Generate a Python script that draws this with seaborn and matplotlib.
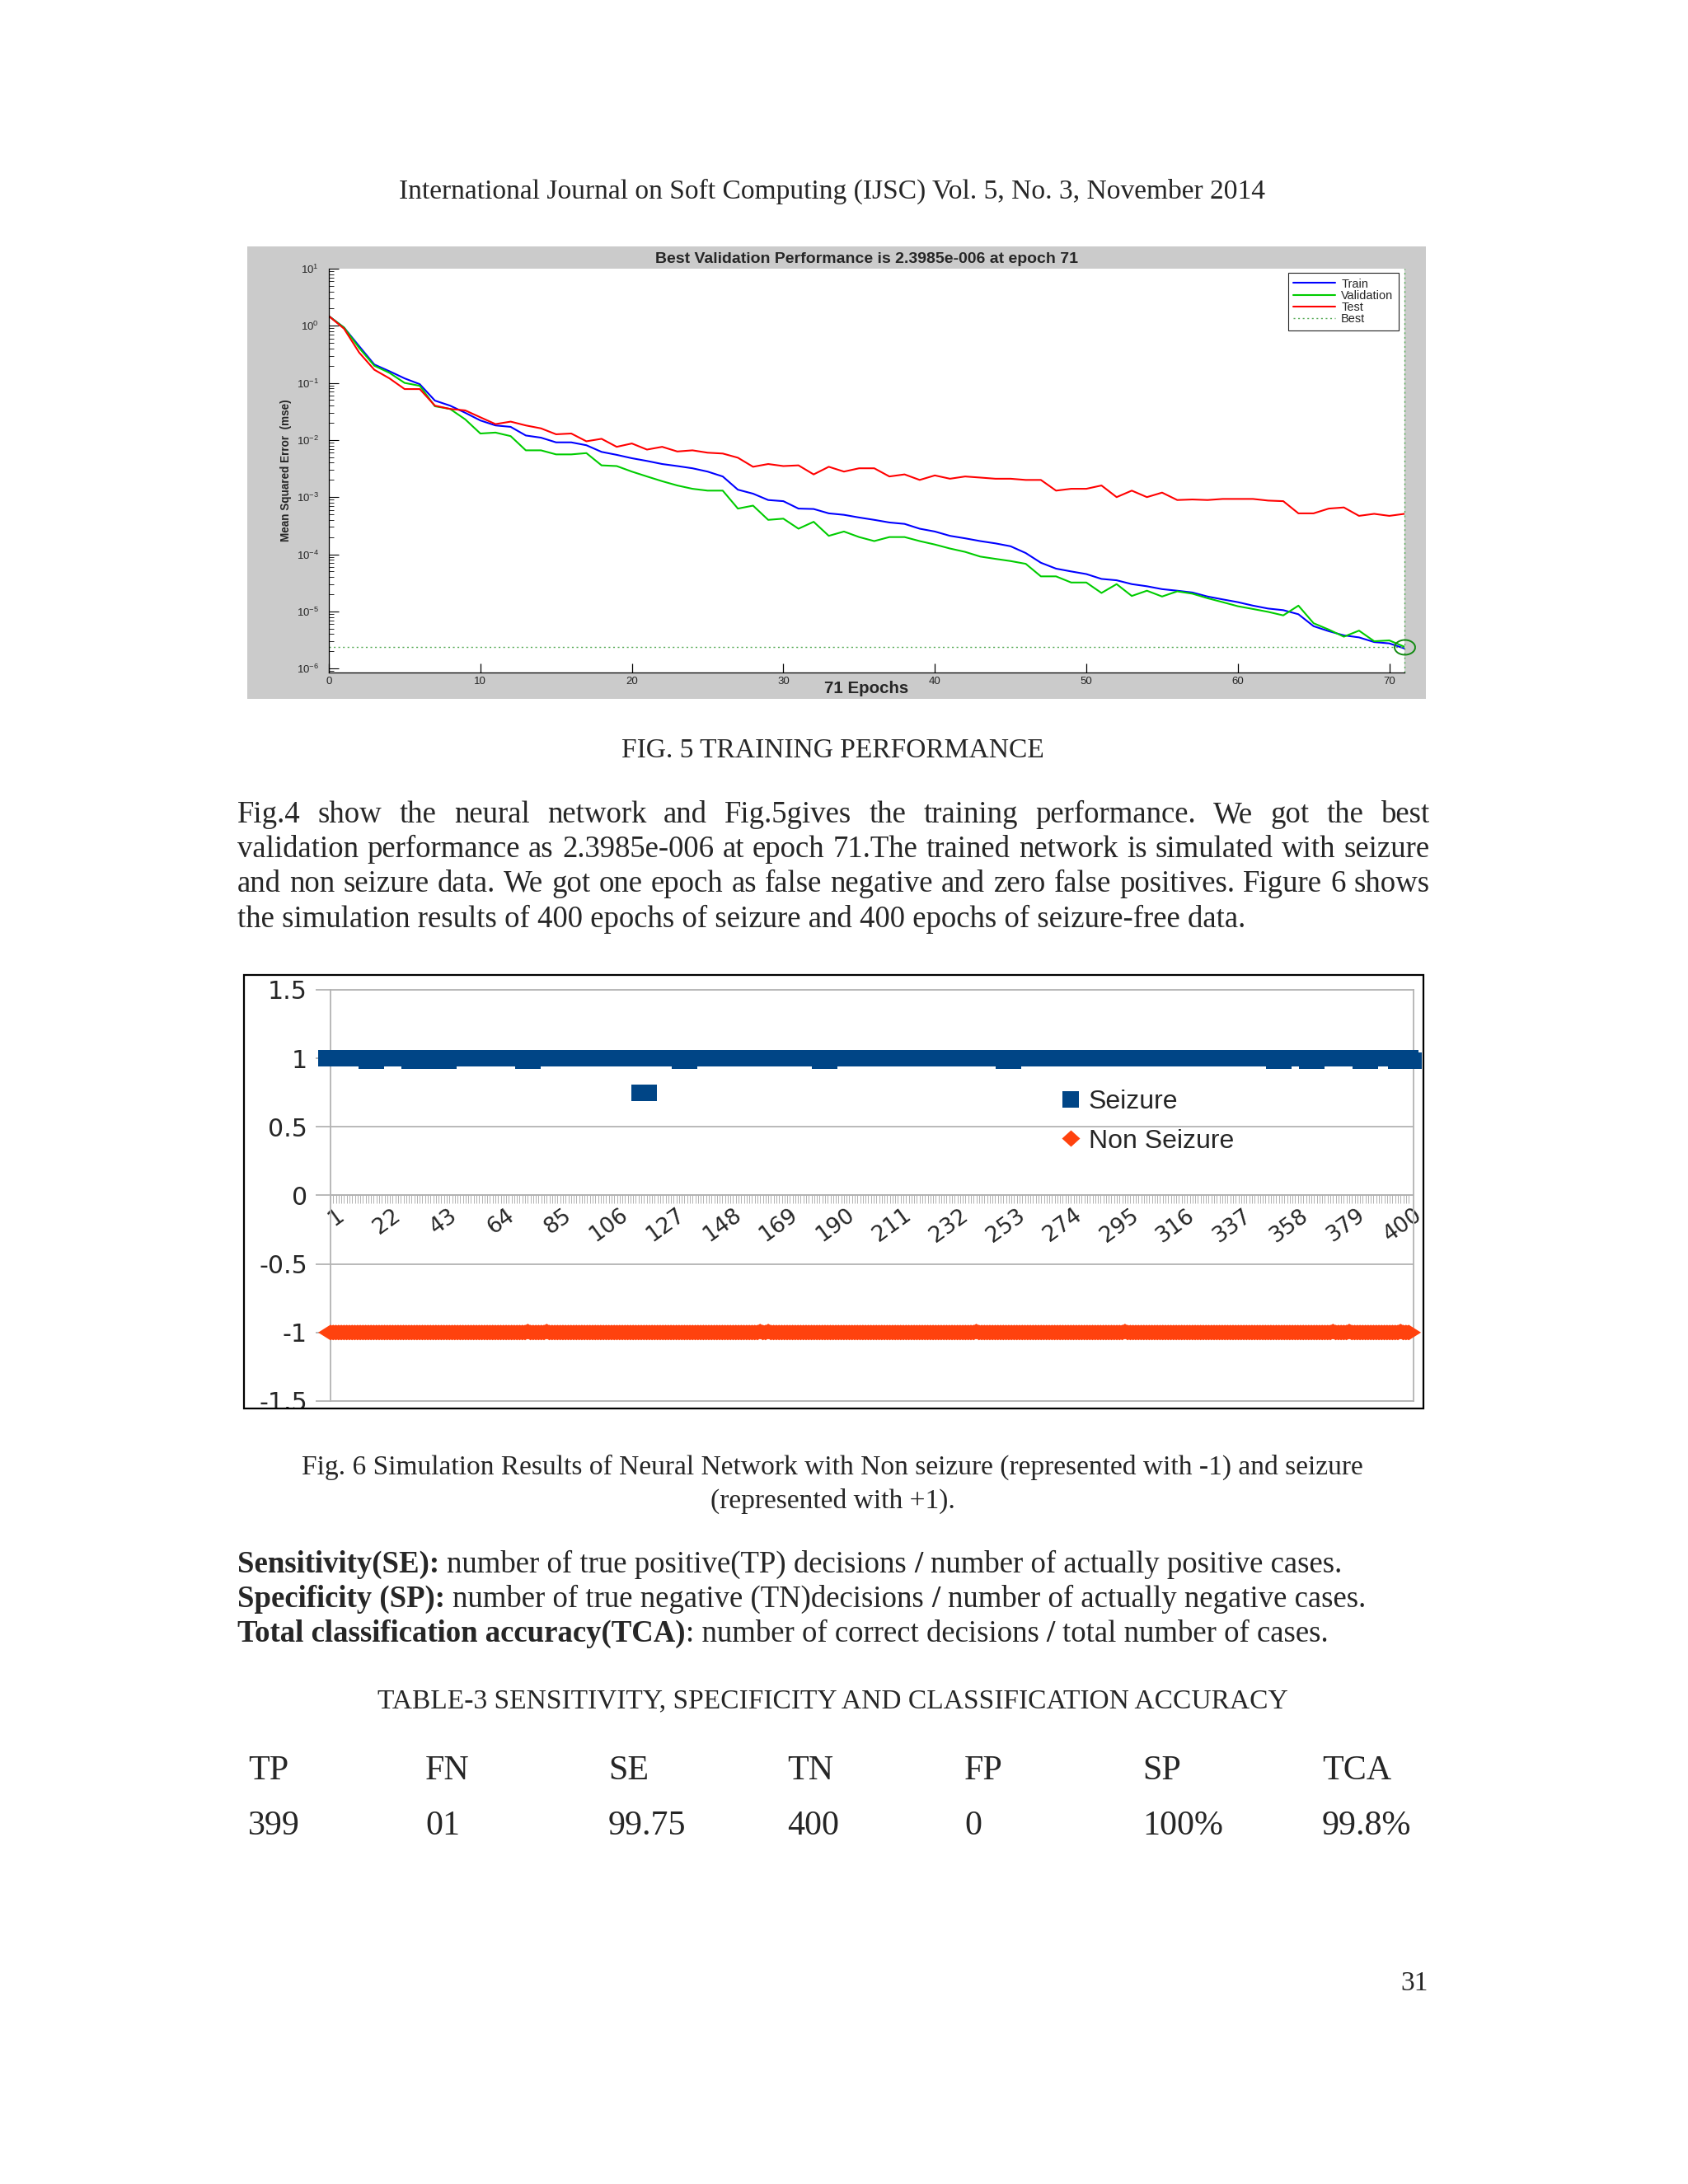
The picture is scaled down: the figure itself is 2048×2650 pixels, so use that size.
import numpy as np
import pandas as pd
import matplotlib
matplotlib.use("Agg")
import matplotlib.pyplot as plt
import matplotlib.transforms as mtrans
from matplotlib.patches import Rectangle
from matplotlib.lines import Line2D
from matplotlib.ticker import LogLocator, NullFormatter
import seaborn as sns

# ------------------------------------------------------------------ data
epochs = list(range(72))
train_mse = [1.48, 0.93, 0.44, 0.21, 0.16, 0.12, 0.095, 0.049, 0.040, 0.030,
             0.022, 0.018, 0.017, 0.012, 0.011, 0.0091, 0.0091, 0.0081, 0.0062, 0.0055,
             0.0048, 0.0043, 0.0038, 0.0035, 0.0032, 0.0028, 0.0023, 0.00135, 0.00115, 0.00089,
             0.00085, 0.00063, 0.00062, 0.00052, 0.00049, 0.00044, 0.00040, 0.00036, 0.00034, 0.00028,
             0.00025, 0.00021, 0.00019, 0.00017, 0.000155, 0.000138, 0.000105, 7.1e-5, 5.6e-5, 5.0e-5,
             4.5e-5, 3.7e-5, 3.5e-5, 3.0e-5, 2.75e-5, 2.45e-5, 2.3e-5, 2.14e-5, 1.82e-5, 1.62e-5,
             1.45e-5, 1.26e-5, 1.12e-5, 1.05e-5, 8.9e-6, 5.5e-6, 4.5e-6, 3.8e-6, 3.5e-6, 2.9e-6,
             2.75e-6, 2.24e-6]
valid_mse = [1.48, 0.93, 0.41, 0.20, 0.15, 0.10, 0.089, 0.039, 0.035, 0.023,
             0.013, 0.0135, 0.0117, 0.0066, 0.0066, 0.0056, 0.0056, 0.0059, 0.0036, 0.0035,
             0.0028, 0.0023, 0.0019, 0.0016, 0.0014, 0.0013, 0.0013, 0.00063, 0.00071, 0.00040,
             0.00042, 0.00028, 0.00037, 0.00021, 0.00025, 0.00020, 0.00017, 0.00020, 0.00020, 0.00017,
             0.000148, 0.000126, 0.00011, 9.1e-5, 8.3e-5, 7.6e-5, 6.8e-5, 4.1e-5, 4.1e-5, 3.2e-5,
             3.2e-5, 2.1e-5, 3.0e-5, 1.86e-5, 2.3e-5, 1.82e-5, 2.24e-5, 2.04e-5, 1.7e-5, 1.45e-5,
             1.23e-5, 1.1e-5, 9.8e-6, 8.5e-6, 1.26e-5, 6.2e-6, 4.8e-6, 3.6e-6, 4.6e-6, 3.0e-6,
             3.1e-6, 2.3985e-6]
test_mse = [1.48, 0.89, 0.34, 0.17, 0.12, 0.078, 0.078, 0.040, 0.035, 0.033,
            0.025, 0.019, 0.021, 0.018, 0.016, 0.0126, 0.013, 0.0095, 0.0105, 0.0076,
            0.0087, 0.0068, 0.0076, 0.0063, 0.0066, 0.0060, 0.0058, 0.0049, 0.0034, 0.0038,
            0.0035, 0.0036, 0.0025, 0.0034, 0.0028, 0.0032, 0.0032, 0.0023, 0.0025, 0.0020,
            0.0024, 0.0021, 0.0023, 0.0022, 0.0021, 0.0021, 0.0020, 0.0020, 0.0013, 0.0014,
            0.0014, 0.0016, 0.0010, 0.0013, 0.0010, 0.0012, 0.00089, 0.00091, 0.00089, 0.00093,
            0.00093, 0.00093, 0.00087, 0.00085, 0.00052, 0.00052, 0.00063, 0.00066, 0.00047, 0.00051,
            0.00047, 0.00051]
best_epoch = 71
best_perf = 2.3985e-6
y_exponents = [-6, -5, -4, -3, -2, -1, 0, 1]
x_ticks_perf = [0, 10, 20, 30, 40, 50, 60, 70]

n_samples = 400
seizure_low_samples = [16, 32, 37, 43, 74, 132, 184, 252, 352, 364, 384, 397, 400]
seizure_low_value = 0.985
seizure_outlier_sample = 117
seizure_outlier_value = 0.75
nonseizure_high_samples = [74, 81, 160, 163, 240, 295, 372, 378, 397]
nonseizure_high_value = -0.993
sim_x_labels = [1, 22, 43, 64, 85, 106, 127, 148, 169, 190, 211, 232, 253, 274,
                295, 316, 337, 358, 379, 400]
sim_y_ticks = [-1.5, -1, -0.5, 0, 0.5, 1, 1.5]
sim_y_labels = ["-1.5", "-1", "-0.5", "0", "0.5", "1", "1.5"]

table_headers = ["TP", "FN", "SE", "TN", "FP", "SP", "TCA"]
table_values = ["399", "01", "99.75", "400", "0", "100%", "99.8%"]

sample_index = list(range(1, n_samples + 1))
seizure_output = [1.0] * n_samples
for s_ in seizure_low_samples:
    seizure_output[s_ - 1] = seizure_low_value
seizure_output[seizure_outlier_sample - 1] = seizure_outlier_value
nonseizure_output = [-1.0] * n_samples
for s_ in nonseizure_high_samples:
    nonseizure_output[s_ - 1] = nonseizure_high_value

# ------------------------------------------------------------------ setup
W, H, DPI = 2048, 2650, 100
sns.set_theme(style="white")
plt.rcParams["font.family"] = ["Liberation Sans", "DejaVu Sans"]
plt.rcParams["mathtext.default"] = "regular"
plt.rcParams["axes.unicode_minus"] = False

fig = plt.figure(figsize=(W / DPI, H / DPI), dpi=DPI, facecolor="white")


def fx(x):
    return x / W


def fy(y):
    return 1 - y / H


def PT(px):
    return px * 72.0 / DPI


def rect_ax(l, t, r, b):
    return [fx(l), fy(b), (r - l) / W, (b - t) / H]


SERIF = "Liberation Serif"
renderer = fig.canvas.get_renderer()


def text_w(s, size, weight="normal"):
    t = fig.text(0, 0, s, fontsize=size, family=SERIF, weight=weight)
    w = t.get_window_extent(renderer).width
    t.remove()
    return w


def space_w(size, weight="normal"):
    return text_w("a a", size, weight) - text_w("aa", size, weight)


def justified(line, y, x0, x1, size):
    words = line.split()
    widths = [text_w(w, size) for w in words]
    gap = (x1 - x0 - sum(widths)) / (len(words) - 1)
    x = x0
    for w, wd in zip(words, widths):
        fig.text(fx(x), fy(y), w, fontsize=size, family=SERIF, va="baseline", ha="left")
        x += wd + gap


def runs(pieces, x0, y, size):
    x = x0
    for s, weight in pieces:
        sp = space_w(size, weight)
        lead = len(s) - len(s.lstrip(" "))
        trail = len(s) - len(s.rstrip(" "))
        core = s.strip(" ")
        x += lead * sp
        fig.text(fx(x), fy(y), core, fontsize=size, family=SERIF, weight=weight,
                 va="baseline", ha="left")
        x += text_w(core, size, weight) + trail * sp


# ------------------------------------------------------------------ page text
CAP = PT(33.5)
BODY = PT(36.8)
TAB = PT(42.0)
fig.text(fx(1010), fy(241), "International Journal on Soft Computing (IJSC) Vol. 5, No. 3, November 2014",
         fontsize=CAP, family=SERIF, ha="center", va="baseline")
fig.text(fx(1010), fy(919), "FIG. 5 TRAINING PERFORMANCE", fontsize=CAP, family=SERIF,
         ha="center", va="baseline")

para = ["Fig.4 show the neural network and Fig.5gives the training performance. We got the best",
        "validation performance as 2.3985e-006 at epoch 71.The trained network is simulated with seizure",
        "and non seizure data. We got one epoch as false negative and zero false positives. Figure 6 shows",
        "the simulation results of 400 epochs of seizure and 400 epochs of seizure-free data."]
para_y = [998, 1040, 1082, 1125]
for i, (ln, yy) in enumerate(zip(para, para_y)):
    if i < 3:
        justified(ln, yy, 288, 1735, BODY)
    else:
        fig.text(fx(288), fy(yy), ln, fontsize=BODY, family=SERIF, va="baseline", ha="left")

fig.text(fx(1010), fy(1789), "Fig. 6 Simulation Results of Neural Network with Non seizure (represented with -1) and seizure",
         fontsize=CAP, family=SERIF, ha="center", va="baseline")
fig.text(fx(1010), fy(1830), "(represented with +1).", fontsize=CAP, family=SERIF,
         ha="center", va="baseline")

runs([("Sensitivity(SE):", "bold"), (" number of true positive(TP) decisions ", "normal"),
      ("/", "bold"), (" number of actually positive cases.", "normal")], 288, 1908, BODY)
runs([("Specificity (SP):", "bold"), (" number of true negative (TN)decisions ", "normal"),
      ("/", "bold"), (" number of actually negative cases.", "normal")], 288, 1950, BODY)
runs([("Total classification accuracy(TCA)", "bold"), (": number of correct decisions ", "normal"),
      ("/", "bold"), (" total number of cases.", "normal")], 288, 1992, BODY)

fig.text(fx(1010), fy(2072), "TABLE-3 SENSITIVITY, SPECIFICITY AND CLASSIFICATION ACCURACY",
         fontsize=CAP, family=SERIF, ha="center", va="baseline")
col_x = [301, 516, 738, 955, 1170, 1386, 1604]
for cx, hd, vl in zip(col_x, table_headers, table_values):
    fig.text(fx(cx), fy(2159), hd, fontsize=TAB, family=SERIF, ha="left", va="baseline")
    fig.text(fx(cx), fy(2226), vl, fontsize=TAB, family=SERIF, ha="left", va="baseline")
fig.text(fx(1733), fy(2415), "31", fontsize=CAP, family=SERIF, ha="right", va="baseline")

# ------------------------------------------------------------------ Fig 5 (performance)
fig.add_artist(Rectangle((fx(300), fy(848)), (1730 - 300) / W, (848 - 299) / H,
                         transform=fig.transFigure, facecolor="#cbcbcb", edgecolor="none", zorder=-5))
ax1 = fig.add_axes(rect_ax(399, 326, 1704, 816))
ax1.set_facecolor("white")
perf = pd.DataFrame({
    "epoch": epochs * 3,
    "mse": train_mse + valid_mse + test_mse,
    "series": ["Train"] * 72 + ["Validation"] * 72 + ["Test"] * 72,
})
pal = {"Train": "#0000ff", "Validation": "#00cc00", "Test": "#ff0000"}
sns.lineplot(data=perf, x="epoch", y="mse", hue="series", hue_order=["Train", "Validation", "Test"],
             palette=pal, linewidth=1.5, legend=False, ax=ax1)
ax1.set_yscale("log")
ax1.set_xlim(0, best_epoch)
ax1.set_ylim(8.5e-7, 10)
best_col = "#55aa55"
ax1.axhline(best_perf, color=best_col, linestyle=(0, (1.5, 2.5)), linewidth=1.0)
ax1.axvline(best_epoch, color=best_col, linestyle=(0, (1.5, 2.5)), linewidth=1.0, clip_on=False)
tt = np.linspace(0, 2 * np.pi, 41)
ellipse = list(zip(np.cos(tt), 0.72 * np.sin(tt)))
ax1.plot([best_epoch], [best_perf], marker=ellipse, markersize=PT(25), mfc="none",
         mec="#118a11", mew=1.4, linestyle="none", clip_on=False, zorder=5)

ax1.set_yticks([10.0 ** e for e in y_exponents])
ax1.set_yticklabels([r"$10^{%d}$" % e for e in y_exponents])
ax1.yaxis.set_minor_locator(LogLocator(base=10, subs=range(2, 10), numticks=20))
ax1.yaxis.set_minor_formatter(NullFormatter())
ax1.set_xticks(x_ticks_perf)
ax1.set_xticklabels([str(v) for v in x_ticks_perf])
ax1.tick_params(axis="y", which="major", direction="in", length=PT(12), width=0.8,
                color="black", labelsize=9.5, pad=PT(12), left=True)
ax1.tick_params(axis="y", which="minor", direction="in", length=PT(6), width=0.6,
                color="black", left=True)
ax1.tick_params(axis="x", which="major", direction="in", length=PT(11), width=0.9,
                color="black", labelsize=9.5, pad=PT(5), bottom=True)
for sp in ["top", "right"]:
    ax1.spines[sp].set_visible(False)
for sp in ["left", "bottom"]:
    ax1.spines[sp].set_color("black")
    ax1.spines[sp].set_linewidth(0.9)
ax1.set_title("Best Validation Performance is 2.3985e-006 at epoch 71", fontsize=PT(19.5),
              fontweight="bold", pad=PT(7))
ax1.set_xlabel("71 Epochs", fontsize=PT(20.5), fontweight="bold")
ax1.xaxis.set_label_coords(0.5, (816 - 826) / 490.0)
ax1.xaxis.label.set_va("top")
ax1.set_ylabel("Mean Squared Error  (mse)", fontsize=PT(13.5), fontweight="bold")
ax1.yaxis.set_label_coords((347 - 399) / 1305.0, 0.5)
ax1.yaxis.label.set_va("center")
h1 = [Line2D([], [], color=pal["Train"], lw=1.5),
      Line2D([], [], color=pal["Validation"], lw=1.5),
      Line2D([], [], color=pal["Test"], lw=1.5),
      Line2D([], [], color=best_col, lw=1.0, linestyle=(0, (1.5, 2.5)))]
lg1 = ax1.legend(h1, ["Train", "Validation", "Test", "Best"], loc="upper right",
                 bbox_to_anchor=(fx(1697), fy(331)), bbox_transform=fig.transFigure,
                 fontsize=PT(14.5), handlelength=3.5, handletextpad=0.5, labelspacing=0.02,
                 borderpad=0.45, borderaxespad=0, frameon=True, fancybox=False, framealpha=1)
lg1.get_frame().set_edgecolor("#222222")
lg1.get_frame().set_linewidth(0.8)

# ------------------------------------------------------------------ Fig 6 (simulation)
GRID = "#b3b3b3"
seiz_col = "#004586"
non_col = "#ff420e"
ax2 = fig.add_axes(rect_ax(401, 1201, 1715, 1700))
ax2.set_facecolor("white")
square_verts = [(-1, -0.645), (1, -0.645), (1, 0.645), (-1, 0.645)]
diamond_verts = [(-1, 0), (0, 0.63), (1, 0), (0, -0.63)]
sns.scatterplot(x=sample_index, y=seizure_output, marker=square_verts, s=PT(31) ** 2,
                color=seiz_col, edgecolor="none", linewidth=0, legend=False, ax=ax2,
                clip_on=False, zorder=3)
sns.scatterplot(x=sample_index, y=nonseizure_output, marker=diamond_verts, s=PT(30) ** 2,
                color=non_col, edgecolor="none", linewidth=0, legend=False, ax=ax2,
                clip_on=False, zorder=3)
ax2.set_xlim(1, 401.8)
ax2.set_ylim(-1.5, 1.5)
ax2.set_xlabel("")
ax2.set_ylabel("")
ax2.set_yticks(sim_y_ticks)
ax2.set_yticklabels(sim_y_labels)
ax2.yaxis.grid(True, color=GRID, linewidth=1.3)
ax2.set_axisbelow(True)
ax2.axhline(-1.5, color=GRID, linewidth=1.3, clip_on=False, zorder=1)
ax2.spines["bottom"].set_position(("data", 0))
for sp in ["left", "right", "top", "bottom"]:
    ax2.spines[sp].set_color(GRID)
    ax2.spines[sp].set_linewidth(1.3)
ax2.set_xticks(sample_index, minor=True)
ax2.tick_params(axis="y", which="major", direction="out", length=PT(18), width=1.3,
                color=GRID, labelsize=PT(30), pad=PT(10), left=True)
ax2.tick_params(axis="x", which="both", direction="out", length=PT(10), width=0.7,
                color=GRID, bottom=True, labelsize=PT(26.5), pad=PT(1))
for lab in ax2.get_yticklabels():
    lab.set_family("DejaVu Sans")
ax2.set_xticks(sim_x_labels)
ax2.set_xticklabels([str(v) for v in sim_x_labels])
offs = mtrans.ScaledTranslation(PT(6) / 72.0, 0, fig.dpi_scale_trans)
for lab in ax2.get_xticklabels():
    lab.set_family("DejaVu Sans")
    lab.set_rotation(36)
    lab.set_ha("right")
    lab.set_va("top")
    lab.set_rotation_mode("anchor")
    lab.set_transform(lab.get_transform() + offs)

h2 = [Line2D([], [], marker="s", markersize=PT(20), color=seiz_col, linestyle="none", mew=0),
      Line2D([], [], marker=[(-1, 0), (0, 0.91), (1, 0), (0, -0.91)], markersize=PT(22),
             color=non_col, linestyle="none", mew=0)]
ax2.legend(h2, ["Seizure", "Non Seizure"], loc="upper left",
           bbox_to_anchor=(fx(1286), fy(1322)), bbox_transform=fig.transFigure,
           fontsize=PT(32), handlelength=0.8, handletextpad=0.29, labelspacing=0.55,
           borderpad=0, borderaxespad=0, frameon=False)

# white mask below the chart frame (clips the lowest tick label) and the frame itself
fig.add_artist(Rectangle((fx(285), fy(1745)), (1745 - 285) / W, (1745 - 1710) / H,
                         transform=fig.transFigure, facecolor="white", edgecolor="none", zorder=20))
fig.add_artist(Rectangle((fx(296), fy(1709)), (1727 - 296) / W, (1709 - 1183) / H,
                         transform=fig.transFigure, facecolor="none", edgecolor="black",
                         linewidth=1.6, zorder=21))

fig.savefig("out.png", dpi=DPI, facecolor="white")
